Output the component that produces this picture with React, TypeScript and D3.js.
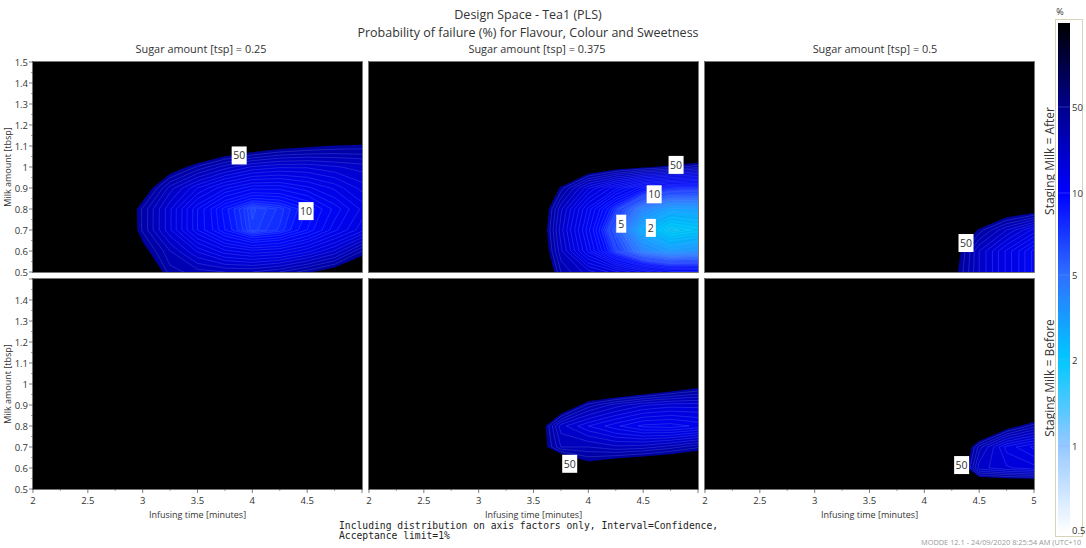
import React from "react";
import * as d3 from "d3";

const xTicks = [2, 2.5, 3, 3.5, 4, 4.5, 5];
const yTicks = [0.5, 0.6, 0.7, 0.8, 0.9, 1, 1.1, 1.2, 1.3, 1.4, 1.5];
const xGrid = [2, 2.25, 2.5, 2.75, 3, 3.25, 3.5, 3.75, 4, 4.25, 4.5, 4.75, 5];
const yGrid = [0.5, 0.6, 0.7, 0.8, 0.9, 1, 1.1, 1.2, 1.3, 1.4, 1.5];
const levels = [50, 45, 40, 36, 32, 28.5, 25.5, 23, 20.5, 18.5, 16.5, 15, 13.5, 12, 11, 10, 9.2, 8.6, 8.1, 7.7, 7.4, 7.1, 6.5, 6, 5.5, 5, 4.6, 4.2, 3.9, 3.6, 3.3, 3, 2.75, 2.5, 2.3, 2.15, 2, 1.9, 1.82];
const legendTicks = [50, 10, 5, 2, 1, 0.5];
const rowBlank = [100, 100, 100, 100, 100, 100, 100, 100, 100, 100, 100, 100, 100];

const panelA = [
  [100, 100, 100, 100, 80, 42, 38, 36, 36, 40, 48, 58, 70],
  [100, 100, 100, 95, 55, 36, 25, 19, 17, 18, 22, 29, 45],
  [100, 100, 100, 85, 44, 26, 15, 10, 7.2, 8.2, 11, 16, 22],
  [100, 100, 100, 80, 44, 26, 15, 9.5, 7, 7.8, 10, 14, 19],
  [100, 100, 100, 100, 62, 34, 23, 17, 14, 14, 16, 19, 24],
  [100, 100, 100, 100, 100, 60, 44, 34, 28, 26, 26, 28, 30],
  [100, 100, 100, 100, 100, 100, 90, 72, 64, 56, 52, 49, 48],
  rowBlank, rowBlank, rowBlank, rowBlank,
];
const panelB = [
  [100, 100, 100, 100, 100, 100, 100, 40, 30, 24, 18, 14, 14],
  [100, 100, 100, 100, 100, 100, 85, 33, 16, 7.5, 4, 3.1, 3.4],
  [100, 100, 100, 100, 100, 100, 82, 30, 14, 5.8, 2.5, 1.8, 2],
  [100, 100, 100, 100, 100, 100, 85, 33, 16, 8, 4, 2.9, 3],
  [100, 100, 100, 100, 100, 100, 100, 48, 26, 17, 11, 9, 8.5],
  [100, 100, 100, 100, 100, 100, 100, 100, 68, 58, 52, 47, 42],
  rowBlank, rowBlank, rowBlank, rowBlank, rowBlank,
];
const panelC = [
  [100, 100, 100, 100, 100, 100, 100, 100, 100, 57, 32, 20, 13],
  [100, 100, 100, 100, 100, 100, 100, 100, 100, 62, 32, 20, 13],
  [100, 100, 100, 100, 100, 100, 100, 100, 100, 85, 48, 32, 22],
  [100, 100, 100, 100, 100, 100, 100, 100, 100, 100, 100, 67, 61],
  rowBlank, rowBlank, rowBlank, rowBlank, rowBlank, rowBlank, rowBlank,
];
const panelD = [
  rowBlank, rowBlank, rowBlank, rowBlank, rowBlank, rowBlank,
  rowBlank, rowBlank, rowBlank, rowBlank, rowBlank,
];
const panelE = [
  [100, 100, 100, 100, 100, 100, 100, 100, 100, 100, 100, 100, 100],
  [100, 100, 100, 100, 100, 100, 100, 100, 58, 70, 80, 85, 90],
  [100, 100, 100, 100, 100, 100, 70, 36, 36, 33, 34, 38, 44],
  [100, 100, 100, 100, 100, 100, 75, 30, 23, 19, 16, 15.5, 17],
  [100, 100, 100, 100, 100, 100, 100, 72, 43, 34, 29, 27, 27],
  [100, 100, 100, 100, 100, 100, 100, 100, 100, 100, 86, 70, 58],
  rowBlank, rowBlank, rowBlank, rowBlank, rowBlank,
];
const panelF = [
  [100, 100, 100, 100, 100, 100, 100, 100, 100, 100, 100, 100, 100],
  [100, 100, 100, 100, 100, 100, 100, 100, 100, 100, 30, 26, 24],
  [100, 100, 100, 100, 100, 100, 100, 100, 100, 100, 38, 22, 18],
  [100, 100, 100, 100, 100, 100, 100, 100, 100, 100, 100, 58, 42],
  rowBlank, rowBlank, rowBlank, rowBlank, rowBlank, rowBlank, rowBlank,
];

const colTitles = ["Sugar amount [tsp] = 0.25", "Sugar amount [tsp] = 0.375", "Sugar amount [tsp] = 0.5"];
const colTitleX = [201, 537, 875];
const rowTitles = ["Staging Milk = After", "Staging Milk = Before"];
const rowTitleY = [161, 378];
const panelGrids = [panelA, panelB, panelC, panelD, panelE, panelF];
const panelLabels = [
  [{ t: "50", x: 3.88, y: 1.055 }, { t: "10", x: 4.49, y: 0.79 }],
  [{ t: "50", x: 4.8, y: 1.01 }, { t: "10", x: 4.6, y: 0.87 }, { t: "5", x: 4.3, y: 0.73 }, { t: "2", x: 4.57, y: 0.71 }],
  [{ t: "50", x: 4.38, y: 0.638 }],
  [],
  [{ t: "50", x: 3.83, y: 0.62 }],
  [{ t: "50", x: 4.34, y: 0.614 }],
];
const colX = [33, 369, 705];
const rowY = [62, 279];
const panelW = 329;
const panelH = 210;

const probColor = d3.scaleLog<string>()
  .domain([100, 70, 50, 25, 10, 5, 2, 1, 0.5])
  .range(["#000000", "#000050", "#00009a", "#0000dc", "#0008ff", "#2f70ff", "#00c8ff", "#96c8ff", "#ffffff"]);
const legendColor = d3.scaleLog<string>()
  .domain([100, 50, 10, 5, 2, 1, 0.5])
  .range(["#000000", "#00008c", "#0000ff", "#2f70ff", "#00c8ff", "#96c8ff", "#ffffff"]);
const legendY = d3.scaleLinear()
  .domain([100, 50, 10, 5, 2, 1, 0.5].map((d) => Math.log10(d)))
  .range([23, 107, 193, 275, 360, 446, 533]);

const fontUI = "'Open Sans', 'Noto Sans', sans-serif";

function Panel({ grid, x0, y0, idx, col, row }: any) {
  const sx = d3.scaleLinear().domain([2, 5]).range([x0, x0 + panelW]);
  const sy = d3.scaleLinear().domain([0.5, 1.5]).range([y0 + panelH, y0]);
  const n = xGrid.length, m = yGrid.length;
  const values: number[] = [];
  for (let j = 0; j < m; j++) for (let i = 0; i < n; i++) values.push(-Math.log10(grid[j][i]));
  const gen = d3.contours().size([n, m]).smooth(true).thresholds(levels.map((l) => -Math.log10(l)));
  const contours = gen(values);
  const dx = xGrid[1] - xGrid[0], dy = yGrid[1] - yGrid[0];
  const path = d3.geoPath(d3.geoTransform({
    point(a: number, b: number) {
      (this as any).stream.point(sx(2 + (a - 0.5) * dx), sy(0.5 + (b - 0.5) * dy));
    },
  }));
  const cid = `clip${idx}`;
  return (
    <g>
      <clipPath id={cid}><rect x={x0} y={y0} width={panelW} height={panelH} /></clipPath>
      <rect x={x0} y={y0} width={panelW} height={panelH} fill="#000" />
      <g clipPath={`url(#${cid})`}>
        {contours.map((c, i) => (
          <path
            key={i}
            d={path(c as any) || ""}
            fill={probColor(levels[i] * 0.96)}
            stroke={levels[i] <= 2.5 ? "#0090b0" : "#7f9cff"}
            strokeOpacity={levels[i] === 50 ? 0 : 0.42}
            strokeWidth={0.55}
          />
        ))}
      </g>
      <rect x={x0 - 0.5} y={y0 - 0.5} width={panelW + 1} height={panelH + 1} fill="none" stroke="#555" strokeWidth={0.8} />
      {row === 1 && xTicks.map((t) => (
        <g key={t}>
          <line x1={sx(t)} x2={sx(t)} y1={y0 + panelH} y2={y0 + panelH + 4} stroke="#444" strokeWidth={0.7} />
          {t < 5 && <line x1={sx(t + 0.25)} x2={sx(t + 0.25)} y1={y0 + panelH} y2={y0 + panelH + 2} stroke="#444" strokeWidth={0.5} />}
          {(col === 2 || t < 5) && (
            <text x={sx(t)} y={y0 + panelH + 15} textAnchor="middle" fontSize={9.5} fill="#333" fontFamily={fontUI}>{t}</text>
          )}
        </g>
      ))}
      {row === 1 && (
        <text x={x0 + panelW / 2} y={y0 + panelH + 29} textAnchor="middle" fontSize={9} fill="#333" fontFamily={fontUI}>Infusing time [minutes]</text>
      )}
      {col === 0 && yTicks.map((t) => (
        <g key={t}>
          <line x1={x0 - 4} x2={x0} y1={sy(t)} y2={sy(t)} stroke="#444" strokeWidth={0.7} />
          {t < 1.5 && <line x1={x0 - 2} x2={x0} y1={sy(t + 0.05)} y2={sy(t + 0.05)} stroke="#444" strokeWidth={0.5} />}
          {(row === 0 || t < 1.5) && (
            <text x={x0 - 5} y={sy(t) + 3.5} textAnchor="end" fontSize={9.5} fill="#333" fontFamily={fontUI}>{t}</text>
          )}
        </g>
      ))}
      {col === 0 && (
        <text transform={`translate(11,${y0 + panelH / 2}) rotate(-90)`} textAnchor="middle" fontSize={9} fill="#333" fontFamily={fontUI}>Milk amount [tbsp]</text>
      )}
      {panelLabels[idx].map((l: any) => {
        const w = l.t.length > 1 ? 15 : 10;
        return (
          <g key={l.t}>
            <rect x={sx(l.x) - w / 2} y={sy(l.y) - 9} width={w} height={18} fill="#fff" />
            <text x={sx(l.x)} y={sy(l.y) + 4} textAnchor="middle" fontSize={10.5} fill="#333" fontFamily={fontUI}>{l.t}</text>
          </g>
        );
      })}
    </g>
  );
}

export default function App() {
  const stops = d3.range(0, 61).map((i) => {
    const y = 23 + (i / 60) * 510;
    return { o: i / 60, c: legendColor(Math.pow(10, legendY.invert(y))) };
  });
  return (
    <svg width={1086} height={548} style={{ position: "absolute", left: 0, top: 0, background: "#fff" }}>
      <defs>
        <linearGradient id="bar" x1="0" x2="0" y1="0" y2="1">
          {stops.map((s, i) => <stop key={i} offset={s.o} stopColor={s.c} />)}
        </linearGradient>
      </defs>
      <text x={528} y={19} textAnchor="middle" fontSize={12.5} fill="#333" fontFamily={fontUI}>Design Space - Tea1 (PLS)</text>
      <text x={528} y={37} textAnchor="middle" fontSize={12.5} fill="#333" fontFamily={fontUI}>Probability of failure (%) for Flavour, Colour and Sweetness</text>
      {colTitles.map((t, i) => (
        <text key={t} x={colTitleX[i]} y={53} textAnchor="middle" fontSize={10.9} fill="#333" fontFamily={fontUI}>{t}</text>
      ))}
      {panelGrids.map((g, i) => (
        <Panel key={i} grid={g} idx={i} col={i % 3} row={Math.floor(i / 3)} x0={colX[i % 3]} y0={rowY[Math.floor(i / 3)]} />
      ))}
      {rowTitles.map((t, i) => (
        <text key={t} transform={`translate(1054,${rowTitleY[i]}) rotate(-90)`} textAnchor="middle" fontSize={12} fill="#333" fontFamily={fontUI}>{t}</text>
      ))}
      <text x={1060} y={15} textAnchor="middle" fontSize={9} fill="#333" fontFamily={fontUI}>%</text>
      <rect x={1055.5} y={19.5} width={27} height={517} fill="#fff" stroke="#d8d4b8" />
      <rect x={1058} y={23} width={12} height={510} fill="url(#bar)" />
      {legendTicks.map((t) => (
        <line key={t} x1={1058} x2={1070} y1={legendY(Math.log10(t))} y2={legendY(Math.log10(t))} stroke="#8fa6ff" strokeOpacity={t === 0.5 ? 0 : 0.5} strokeWidth={0.6} />
      ))}
      {legendTicks.map((t) => (
        <text key={t} x={1072} y={legendY(Math.log10(t)) + (t === 0.5 ? 1 : 3.5)} fontSize={9.5} fill="#333" fontFamily={fontUI}>{t}</text>
      ))}
      <text x={339} y={528.5} fontSize={9.7} fill="#222" fontFamily="'DejaVu Sans Mono', monospace">Including distribution on axis factors only, Interval=Confidence,</text>
      <text x={339} y={539} fontSize={9.7} fill="#222" fontFamily="'DejaVu Sans Mono', monospace">Acceptance limit=1%</text>
      <text x={921} y={545} fontSize={7.4} fill="#999" fontFamily={fontUI}>MODDE 12.1 - 24/09/2020 8:25:54 AM (UTC+10</text>
    </svg>
  );
}
